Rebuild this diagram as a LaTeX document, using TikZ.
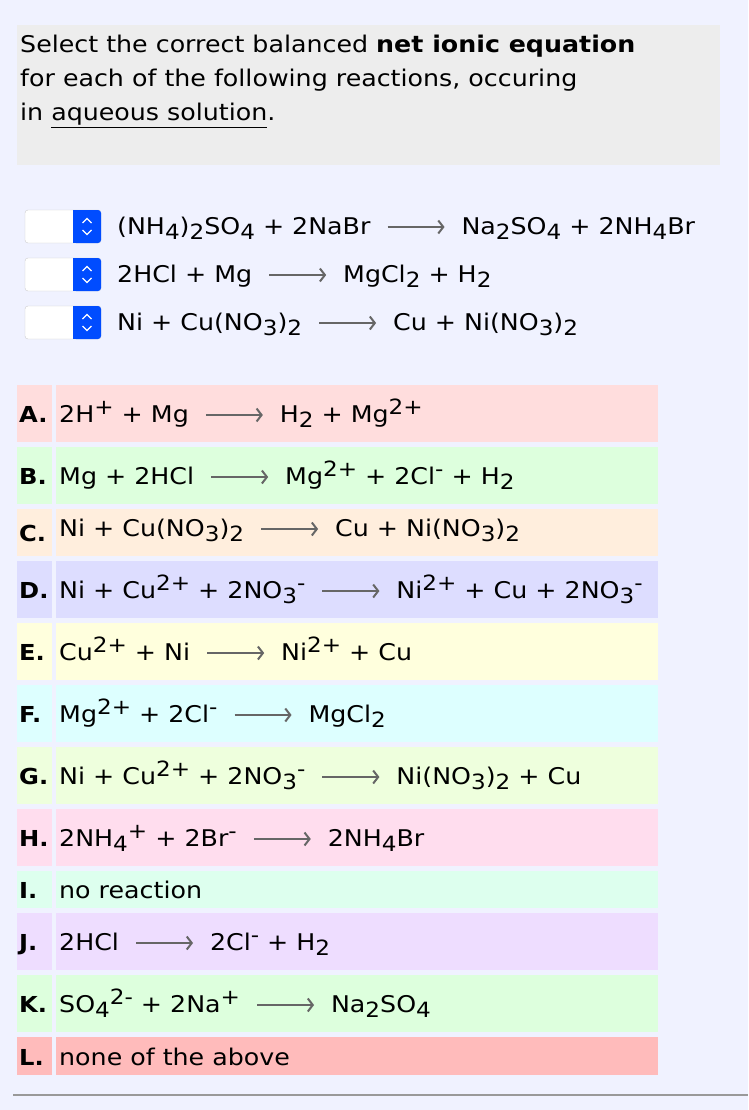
\documentclass[tikz,border=0pt]{standalone}
\usetikzlibrary{arrows.meta}
\usepackage{fontspec}
\setmainfont{DejaVu Sans}[FakeStretch=1.1]
\usepackage{xcolor}
\definecolor{bg}{HTML}{F0F2FF}
\newcommand{\dn}[1]{\raisebox{-5pt}{\fontsize{21}{21}\selectfont #1}}
\newcommand{\upp}[1]{\raisebox{8pt}{\fontsize{21}{21}\selectfont #1}}
\newcommand{\ar}{\hspace{16pt}\tikz[baseline=-7pt,x=1pt,y=1pt]\draw[draw=black!60,line width=2pt,-{Straight Barb[length=5pt,width=13pt,line width=2pt]}] (0,0)--(57,0);\hspace{16pt}}
\begin{document}
\begin{tikzpicture}[x=1pt,y=-1pt,
  txt/.style={anchor=base west,inner sep=0pt,font=\fontsize{23}{27}\selectfont},
  lab/.style={anchor=base west,inner sep=0pt,font=\fontsize{22}{26}\selectfont\bfseries}]
\useasboundingbox[fill=bg] (0,0) rectangle (748,1110);
\fill[black!7] (17,25) rectangle (720,165);
\node[txt] (t1) at (20,53) {Select the correct balanced \textbf{net ionic equation}};
\node[txt] (t2) at (20,87) {for each of the following reactions, occuring};
\node[txt] (t3) at (20,121) {in \underline{aqueous solution}.};
% dropdowns
\foreach \y/\n in {210/d1,258/d2,306/d3}{
  \draw[black!20,fill=white,rounded corners=3pt] (25,\y) rectangle (101,\y+33);
  \fill[blue!70!cyan,rounded corners=3pt] (73,\y) rectangle (101,\y+33);
  \fill[blue!70!cyan] (73,\y) rectangle (80,\y+33);
  \draw[white,line width=1.2pt] (82.5,\y+13)--(87,\y+8.5)--(91.5,\y+13) (82.5,\y+20)--(87,\y+24.5)--(91.5,\y+20);
}
\node[txt] (q1) at (117,234) {(NH\dn{4})\dn{2}SO\dn{4} + 2NaBr\ar Na\dn{2}SO\dn{4} + 2NH\dn{4}Br};
\node[txt] (q2) at (117,282) {2HCl + Mg\ar MgCl\dn{2} + H\dn{2}};
\node[txt] (q3) at (117,330) {Ni + Cu(NO\dn{3})\dn{2}\ar Cu + Ni(NO\dn{3})\dn{2}};
% answers
\foreach \a/\b/\c/\l in {385/442/FFDDDD/A,447/504/DDFFDD/B,509/556/FFEEDD/C,561/618/DDDDFF/D,623/680/FFFFDD/E,685/742/DDFFFF/F,747/804/EEFFDD/G,809/866/FFDDEE/H,871/908/DDFFEE/I,913/970/EEDDFF/J,975/1032/DDFFDD/K,1037/1075/FFBBBB/L}{
  \definecolor{rc}{HTML}{\c}
  \fill[rc] (17,\a) rectangle (52,\b);
  \fill[rc] (56,\a) rectangle (658,\b);
}
\node[lab] (lA) at (19,422) {A.};
\node[txt] (eA) at (59,422) {2H\upp{+} + Mg\ar H\dn{2} + Mg\upp{2+}};
\node[lab] (lB) at (19,484) {B.};
\node[txt] (eB) at (59,484) {Mg + 2HCl\ar Mg\upp{2+} + 2Cl\upp{-} + H\dn{2}};
\node[lab] (lC) at (19,541) {C.};
\node[txt] (eC) at (59,536) {Ni + Cu(NO\dn{3})\dn{2}\ar Cu + Ni(NO\dn{3})\dn{2}};
\node[lab] (lD) at (19,598) {D.};
\node[txt] (eD) at (59,598) {Ni + Cu\upp{2+} + 2NO\dn{3}\upp{-}\ar Ni\upp{2+} + Cu + 2NO\dn{3}\upp{-}};
\node[lab] (lE) at (19,660) {E.};
\node[txt] (eE) at (59,660) {Cu\upp{2+} + Ni\ar Ni\upp{2+} + Cu};
\node[lab] (lF) at (19,722) {F.};
\node[txt] (eF) at (59,722) {Mg\upp{2+} + 2Cl\upp{-}\ar MgCl\dn{2}};
\node[lab] (lG) at (19,784) {G.};
\node[txt] (eG) at (59,784) {Ni + Cu\upp{2+} + 2NO\dn{3}\upp{-}\ar Ni(NO\dn{3})\dn{2} + Cu};
\node[lab] (lH) at (19,846) {H.};
\node[txt] (eH) at (59,846) {2NH\dn{4}\upp{+} + 2Br\upp{-}\ar 2NH\dn{4}Br};
\node[lab] (lI) at (19,898) {I.};
\node[txt] (eI) at (59,898) {no reaction};
\node[lab] (lJ) at (19,950) {J.};
\node[txt] (eJ) at (59,950) {2HCl\ar 2Cl\upp{-} + H\dn{2}};
\node[lab] (lK) at (19,1012) {K.};
\node[txt] (eK) at (59,1012) {SO\dn{4}\upp{2-} + 2Na\upp{+}\ar Na\dn{2}SO\dn{4}};
\node[lab] (lL) at (19,1065) {L.};
\node[txt] (eL) at (59,1065) {none of the above};
\draw[black!40,line width=1.5pt] (13,1095)--(748,1095);
\end{tikzpicture}
\end{document}
